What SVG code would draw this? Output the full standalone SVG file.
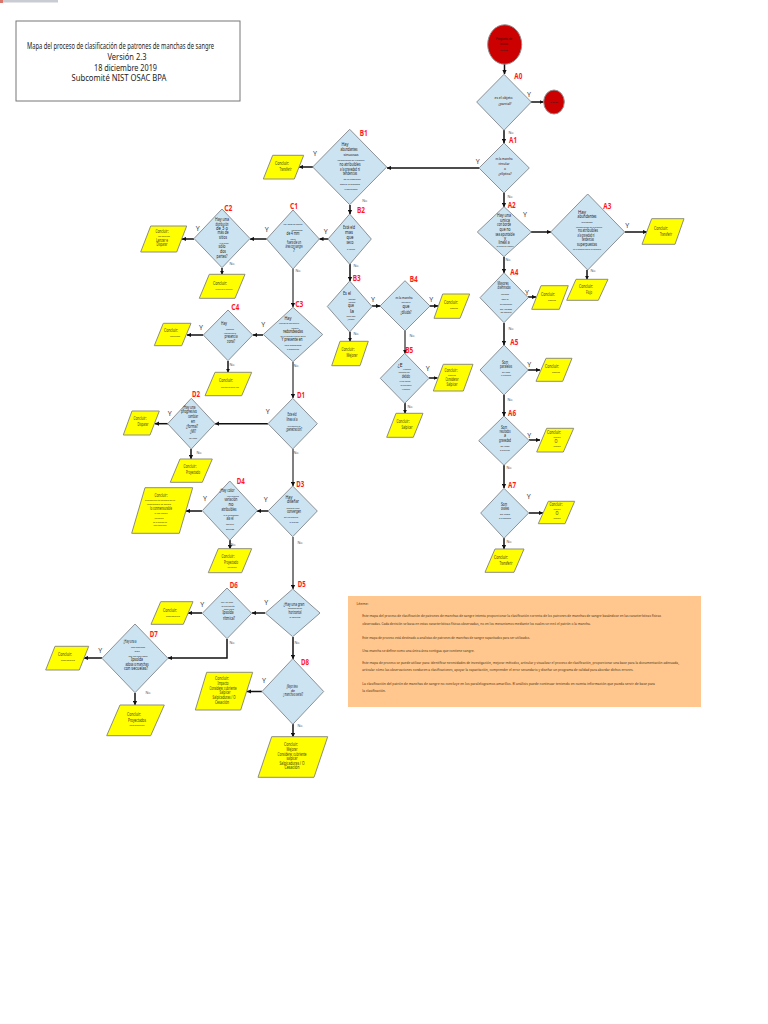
<svg xmlns="http://www.w3.org/2000/svg" width="768" height="1024" viewBox="0 0 768 1024">
<style>
text{font-family:"Noto Sans","Open Sans","DejaVu Sans",sans-serif;text-anchor:middle;fill:#222}
.d{fill:#cce3f2;stroke:#8b9196;stroke-width:1}
.p{fill:#ffff00;stroke:#8e8e80;stroke-width:1}
.e{fill:#cc0000;stroke:#8b8f8f;stroke-width:1}
.s{font-size:4.6px}
.x{font-size:2.3px}
.k{font-size:4.8px;fill:#3c3c08}
.kx{font-size:2.3px;fill:#3c3c08}
.r{font-size:9.5px;font-weight:700;fill:#ff1a1a}
.y{font-size:7px;fill:#444}
.n{font-size:2.6px;fill:#555}
.l{font-size:3.6px;text-anchor:start;fill:#4a3010}
.t{font-size:8.6px;fill:#222}
.c{font-size:3px;fill:#300}
#connectors path{fill:none;stroke:#111;stroke-width:1.5;marker-end:url(#a)}
#connectors path.g{stroke:#555}
</style>
<defs><marker id="a" markerUnits="userSpaceOnUse" markerWidth="5" markerHeight="5" refX="4" refY="2.5" orient="auto"><path d="M0 .4L4.2 2.5L0 4.6z" fill="#111"/></marker></defs>
<rect x="0" y="0" width="58" height="2.5" fill="#c9ccd2"/><rect x="0" y="0" width="3" height="3" fill="#d9756a"/>
<g id="header"><rect x="16" y="21" width="224" height="80" fill="#fff" stroke="#777" stroke-width="1"/>
<text class="t" x="120.500" y="49" textLength="187" lengthAdjust="spacingAndGlyphs">Mapa del proceso de clasificación de patrones de manchas de sangre</text>
<text class="t" x="127" y="60" textLength="39" lengthAdjust="spacingAndGlyphs">Versión 2.3</text>
<text class="t" x="125.500" y="71" textLength="63" lengthAdjust="spacingAndGlyphs">18 diciembre 2019</text>
<text class="t" x="119" y="81" textLength="95" lengthAdjust="spacingAndGlyphs">Subcomité NIST OSAC BPA</text></g>
<g id="connectors">
<path d="M504.500 64V74"/><path d="M531 102H543.500"/><path d="M504 130V143"/><path d="M479 168H387"/><path d="M504 193V207"/>
<path d="M313 167H299"/><path d="M350 205V214"/><path d="M328 239H319.500"/><path d="M266.700 239H250"/><path d="M194 239H182"/><path d="M222 268V274.500"/>
<path class="g" d="M293 269V307"/><path d="M263 335H253"/><path d="M203 335H187"/><path d="M228 361V372.500"/><path class="g" d="M293 362V398"/>
<path d="M268 423.700H215"/><path d="M168 423.700H155"/><path d="M191 449V459"/><path class="g" d="M293 449V486"/><path d="M268 511H257"/><path d="M202 511H186"/>
<path d="M230 540V549"/><path class="g" d="M293 537V589"/><path d="M265 613H252"/><path d="M202 613H188"/><path d="M227 639V658H168"/><path d="M102 658H84"/>
<path d="M135 693V705"/><path d="M293 637V659"/><path d="M262 691.500H247"/><path d="M293 724V737"/>
<path d="M350 264V281"/><path d="M372 306H380"/><path d="M350 332V341.500"/><path d="M430 306H438"/><path class="g" d="M405 331V353.500"/><path d="M429 378H437.500"/><path d="M405 403V413.500"/>
<path d="M531 232H551"/><path d="M625 232H647"/><path d="M587 270V279.500"/><path d="M504 257V273"/><path d="M528 297H536"/><path d="M504 323V345"/><path d="M528 370H540"/>
<path d="M504 395V416"/><path d="M529 440H540"/><path d="M504 465V488"/><path d="M529 513H543"/><path d="M504 538V549"/>
</g>
<g id="start"><ellipse class="e" cx="504.700" cy="44.500" rx="17" ry="19.700"/>
<text class="c" x="504" y="40" textLength="16" lengthAdjust="spacingAndGlyphs">Pregunta de</text>
<text class="c" x="504" y="45" textLength="8" lengthAdjust="spacingAndGlyphs">inicio</text>
<text class="x" x="504" y="51" textLength="8" lengthAdjust="spacingAndGlyphs">Inicio</text></g>
<g id="stop"><ellipse class="e" cx="554" cy="102" rx="10.300" ry="12"/><text class="x" x="554" y="103" textLength="8" lengthAdjust="spacingAndGlyphs">Parar</text></g>

<g id="A0"><path class="d" d="M504 74.300L531.300 102L504 130.300L476.700 102z"/><text class="c" x="503.500" y="99" textLength="18" lengthAdjust="spacingAndGlyphs">es el objeto</text><text class="c" x="505" y="105" textLength="13" lengthAdjust="spacingAndGlyphs">¿parcial?</text><text class="r" x="518.300" y="78.500" textLength="8" lengthAdjust="spacingAndGlyphs">A0</text><text class="y" x="529" y="97">Y</text><text class="n" x="511" y="134" textLength="5" lengthAdjust="spacingAndGlyphs">No</text></g>
<g id="A1"><path class="d" d="M504 143L529.300 168L504 193L479 168z"/><text class="c" x="504" y="160" textLength="17" lengthAdjust="spacingAndGlyphs">es la mancha</text><text class="c" x="504" y="165" textLength="11" lengthAdjust="spacingAndGlyphs">circular</text><text class="c" x="505" y="170" textLength="2" lengthAdjust="spacingAndGlyphs">o</text><text class="c" x="505" y="175" textLength="13" lengthAdjust="spacingAndGlyphs">¿elíptica?</text><text class="r" x="513" y="143" textLength="8" lengthAdjust="spacingAndGlyphs">A1</text><text class="y" x="477.700" y="164">Y</text><text class="n" x="510" y="198" textLength="5" lengthAdjust="spacingAndGlyphs">No</text></g>
<g id="A2"><path class="d" d="M504 206.700L531.300 232L504 256.700L477.300 232z"/><text class="s" x="504" y="217" textLength="14" lengthAdjust="spacingAndGlyphs">Hay una</text><text class="s" x="505" y="222" textLength="10" lengthAdjust="spacingAndGlyphs">unica</text><text class="s" x="504" y="226" textLength="14" lengthAdjust="spacingAndGlyphs">con borde</text><text class="s" x="505" y="231" textLength="11" lengthAdjust="spacingAndGlyphs">que no</text><text class="s" x="505" y="236" textLength="19" lengthAdjust="spacingAndGlyphs">sea apuntable</text><text class="s" x="505" y="240" textLength="2" lengthAdjust="spacingAndGlyphs">y</text><text class="s" x="504" y="244" textLength="11" lengthAdjust="spacingAndGlyphs">lineal a</text><text class="x" x="505" y="247" textLength="17" lengthAdjust="spacingAndGlyphs">los bordes de la mancha</text><text class="r" x="511.700" y="207.500" textLength="8" lengthAdjust="spacingAndGlyphs">A2</text><text class="y" x="525" y="217">Y</text><text class="n" x="508" y="261" textLength="5" lengthAdjust="spacingAndGlyphs">No</text></g>
<g id="A3"><path class="d" d="M587.700 194L624.700 232L587.700 270L550.700 232z"/><text class="s" x="582" y="214" textLength="8" lengthAdjust="spacingAndGlyphs">Hay</text><text class="s" x="587" y="218" textLength="19" lengthAdjust="spacingAndGlyphs">abundantes</text><text class="x" x="587" y="223" textLength="11" lengthAdjust="spacingAndGlyphs">sinuosas</text><text class="x" x="589" y="227.500" textLength="26" lengthAdjust="spacingAndGlyphs">características en la mancha</text><text class="s" x="588" y="232" textLength="20" lengthAdjust="spacingAndGlyphs">no atribuibles</text><text class="s" x="586" y="237" textLength="17" lengthAdjust="spacingAndGlyphs">a la gravedad ni</text><text class="s" x="588" y="241" textLength="12" lengthAdjust="spacingAndGlyphs">tendencias</text><text class="s" x="587" y="246" textLength="20" lengthAdjust="spacingAndGlyphs">superpuestas</text><text class="x" x="587" y="250" textLength="28" lengthAdjust="spacingAndGlyphs">de la mancha sobre la superficie</text><text class="r" x="607.300" y="208.500" textLength="8" lengthAdjust="spacingAndGlyphs">A3</text><text class="y" x="627.300" y="228">Y</text><text class="n" x="593" y="272" textLength="5" lengthAdjust="spacingAndGlyphs">No</text></g>
<g id="A4"><path class="d" d="M504 272.700L528.300 297.700L504 322.700L480 297.700z"/><text class="s" x="503" y="285" textLength="11" lengthAdjust="spacingAndGlyphs">Mayores</text><text class="s" x="504" y="289" textLength="13" lengthAdjust="spacingAndGlyphs">diseminadas</text><text class="x" x="505" y="295" textLength="8" lengthAdjust="spacingAndGlyphs">unidas</text><text class="x" x="505" y="300" textLength="7" lengthAdjust="spacingAndGlyphs">con la</text><text class="x" x="506" y="305" textLength="12" lengthAdjust="spacingAndGlyphs">en manchas</text><text class="x" x="506" y="310" textLength="12" lengthAdjust="spacingAndGlyphs">en líneas</text><text class="x" x="506" y="313" textLength="11" lengthAdjust="spacingAndGlyphs">de sangre</text><text class="r" x="514.300" y="274.500" textLength="8" lengthAdjust="spacingAndGlyphs">A4</text><text class="y" x="527" y="295">Y</text><text class="n" x="511" y="330" textLength="5" lengthAdjust="spacingAndGlyphs">No</text></g>
<g id="A5"><path class="d" d="M504 345L528.300 370L504 395L480 370z"/><text class="s" x="505" y="364" textLength="6" lengthAdjust="spacingAndGlyphs">Son</text><text class="s" x="506" y="368" textLength="12" lengthAdjust="spacingAndGlyphs">paralelas</text><text class="x" x="506" y="372.500" textLength="8" lengthAdjust="spacingAndGlyphs">en línea</text><text class="x" x="506" y="376" textLength="10" lengthAdjust="spacingAndGlyphs">a la mancha</text><text class="r" x="514.300" y="345" textLength="8" lengthAdjust="spacingAndGlyphs">A5</text><text class="y" x="529.300" y="367">Y</text><text class="n" x="510" y="401" textLength="5" lengthAdjust="spacingAndGlyphs">No</text></g>
<g id="A6"><path class="d" d="M504 416L529.300 440.700L504 465.300L478.700 440.700z"/><text class="s" x="504" y="429" textLength="6" lengthAdjust="spacingAndGlyphs">Son</text><text class="s" x="505" y="433" textLength="11" lengthAdjust="spacingAndGlyphs">resultados</text><text class="s" x="505" y="437" textLength="2" lengthAdjust="spacingAndGlyphs">a</text><text class="s" x="505" y="442" textLength="12" lengthAdjust="spacingAndGlyphs">gravedad</text><text class="x" x="505" y="447" textLength="9" lengthAdjust="spacingAndGlyphs">en línea</text><text class="x" x="505" y="451" textLength="10" lengthAdjust="spacingAndGlyphs">o circular</text><text class="r" x="512" y="416" textLength="8" lengthAdjust="spacingAndGlyphs">A6</text><text class="y" x="529.300" y="438">Y</text><text class="n" x="509" y="469" textLength="5" lengthAdjust="spacingAndGlyphs">No</text></g>
<g id="A7"><path class="d" d="M504 488.300L528.700 513L504 538.300L480.700 513z"/><text class="s" x="504" y="506" textLength="6" lengthAdjust="spacingAndGlyphs">Son</text><text class="s" x="505" y="510" textLength="8" lengthAdjust="spacingAndGlyphs">ovales</text><text class="x" x="505" y="515" textLength="10" lengthAdjust="spacingAndGlyphs">en línea</text><text class="x" x="505" y="519" textLength="12" lengthAdjust="spacingAndGlyphs">a la mancha</text><text class="r" x="512" y="488" textLength="8" lengthAdjust="spacingAndGlyphs">A7</text><text class="y" x="528.700" y="499">Y</text><text class="n" x="509" y="543" textLength="5" lengthAdjust="spacingAndGlyphs">No</text></g>

<g id="B1"><path class="d" d="M349.700 129.300L386.700 167L349.700 204.700L312.700 167z"/><text class="s" x="345" y="146" textLength="7" lengthAdjust="spacingAndGlyphs">Hay</text><text class="s" x="349" y="150.500" textLength="17" lengthAdjust="spacingAndGlyphs">abundantes</text><text class="c" x="351" y="155.500" textLength="15" lengthAdjust="spacingAndGlyphs">sinuosas</text><text class="x" x="351" y="160.500" textLength="27" lengthAdjust="spacingAndGlyphs">características en la mancha</text><text class="s" x="350" y="165.500" textLength="21" lengthAdjust="spacingAndGlyphs">no atribuibles</text><text class="s" x="350" y="170.500" textLength="20" lengthAdjust="spacingAndGlyphs">a la gravedad ni</text><text class="s" x="350" y="175" textLength="14" lengthAdjust="spacingAndGlyphs">tendencias</text><text class="x" x="352" y="180" textLength="17" lengthAdjust="spacingAndGlyphs">de la superficie</text><text class="x" x="350" y="185" textLength="20" lengthAdjust="spacingAndGlyphs">sobre la mancha</text><text class="x" x="351" y="190" textLength="13" lengthAdjust="spacingAndGlyphs">o movimiento</text><text class="r" x="363.700" y="135.500" textLength="8" lengthAdjust="spacingAndGlyphs">B1</text><text class="y" x="315" y="156">Y</text><text class="n" x="364.700" y="202" textLength="5" lengthAdjust="spacingAndGlyphs">No</text></g>
<g id="B2"><path class="d" d="M349.700 214L371.300 239L349.700 264.300L328 239z"/><text class="s" x="349" y="229" textLength="12" lengthAdjust="spacingAndGlyphs">Está eld</text><text class="s" x="349" y="234" textLength="8" lengthAdjust="spacingAndGlyphs">mas</text><text class="s" x="350" y="239" textLength="7" lengthAdjust="spacingAndGlyphs">que</text><text class="s" x="350" y="244" textLength="7" lengthAdjust="spacingAndGlyphs">seco</text><text class="x" x="351" y="249.500" textLength="8" lengthAdjust="spacingAndGlyphs">o líquido</text><text class="r" x="361" y="213" textLength="8" lengthAdjust="spacingAndGlyphs">B2</text><text class="n" x="356" y="267" textLength="5" lengthAdjust="spacingAndGlyphs">No</text><text class="y" x="325.700" y="234">Y</text></g>
<g id="B3"><path class="d" d="M349.700 281L372 306.500L349.700 332L327.300 306.500z"/><text class="s" x="347" y="295" textLength="8" lengthAdjust="spacingAndGlyphs">Es el</text><text class="x" x="352" y="299.500" textLength="7" lengthAdjust="spacingAndGlyphs">patrón</text><text class="x" x="352" y="303" textLength="7" lengthAdjust="spacingAndGlyphs">inicial</text><text class="s" x="351" y="307" textLength="6" lengthAdjust="spacingAndGlyphs">que</text><text class="s" x="352" y="312.500" textLength="4" lengthAdjust="spacingAndGlyphs">la</text><text class="x" x="351" y="316.500" textLength="9" lengthAdjust="spacingAndGlyphs">área con</text><text class="x" x="351" y="320" textLength="7" lengthAdjust="spacingAndGlyphs">¿suelo?</text><text class="r" x="356.700" y="280.500" textLength="8" lengthAdjust="spacingAndGlyphs">B3</text><text class="y" x="373" y="302">Y</text><text class="n" x="356" y="335" textLength="5" lengthAdjust="spacingAndGlyphs">No</text></g>
<g id="B4"><path class="d" d="M405 280.700L430 306L405 331L380 306z"/><text class="c" x="404" y="299" textLength="17" lengthAdjust="spacingAndGlyphs">es la mancha</text><text class="x" x="406" y="303" textLength="9" lengthAdjust="spacingAndGlyphs">más oscura</text><text class="s" x="406" y="307.500" textLength="7" lengthAdjust="spacingAndGlyphs">que</text><text class="s" x="406" y="313.500" textLength="11" lengthAdjust="spacingAndGlyphs">¿diluida?</text><text class="r" x="413.700" y="281.500" textLength="8" lengthAdjust="spacingAndGlyphs">B4</text><text class="y" x="431.300" y="302">Y</text><text class="n" x="412" y="337" textLength="5" lengthAdjust="spacingAndGlyphs">No</text></g>
<g id="B5"><path class="d" d="M404.700 353.300L429 378.300L404.700 403.300L380.300 378.300z"/><text class="s" x="400" y="367" textLength="5" lengthAdjust="spacingAndGlyphs">¿E</text><text class="x" x="407" y="370" textLength="8" lengthAdjust="spacingAndGlyphs">la mancha</text><text class="x" x="404" y="373" textLength="11" lengthAdjust="spacingAndGlyphs">resultado con</text><text class="s" x="406" y="377.500" textLength="8" lengthAdjust="spacingAndGlyphs">debido</text><text class="x" x="405" y="382" textLength="11" lengthAdjust="spacingAndGlyphs">a una acción</text><text class="x" x="406" y="386" textLength="11" lengthAdjust="spacingAndGlyphs">de flujo sobre</text><text class="x" x="406" y="390" textLength="8" lengthAdjust="spacingAndGlyphs">la mancha</text><text class="r" x="409.300" y="352.500" textLength="8" lengthAdjust="spacingAndGlyphs">B5</text><text class="y" x="427.700" y="370.500">Y</text><text class="n" x="410" y="408" textLength="5" lengthAdjust="spacingAndGlyphs">No</text></g>

<g id="C1"><path class="d" d="M293 210L319.300 239L293 269L266.700 239z"/><text class="x" x="293" y="225" textLength="19" lengthAdjust="spacingAndGlyphs">hay áreas de sangre</text><text class="x" x="297" y="230.500" textLength="11" lengthAdjust="spacingAndGlyphs">rodeadas</text><text class="s" x="293" y="235" textLength="13" lengthAdjust="spacingAndGlyphs">de 4 mm</text><text class="x" x="293" y="239.500" textLength="5" lengthAdjust="spacingAndGlyphs">sobre</text><text class="s" x="294" y="244" textLength="14" lengthAdjust="spacingAndGlyphs">fuera de un</text><text class="s" x="294" y="248" textLength="17" lengthAdjust="spacingAndGlyphs">área con sangre</text><text class="s" x="294" y="252" textLength="2" lengthAdjust="spacingAndGlyphs">?</text><text class="r" x="294" y="209" textLength="8" lengthAdjust="spacingAndGlyphs">C1</text><text class="y" x="266.700" y="232">Y</text><text class="n" x="298" y="272" textLength="5" lengthAdjust="spacingAndGlyphs">No</text></g>
<g id="C2"><path class="d" d="M222 209L250 238.500L222 267.700L194 238.500z"/><text class="s" x="222" y="221" textLength="14" lengthAdjust="spacingAndGlyphs">Hay una</text><text class="s" x="222" y="225.500" textLength="13" lengthAdjust="spacingAndGlyphs">distribución</text><text class="s" x="222" y="230" textLength="12" lengthAdjust="spacingAndGlyphs">de 3 o</text><text class="s" x="223" y="234" textLength="11" lengthAdjust="spacingAndGlyphs">más de</text><text class="s" x="223" y="238.500" textLength="8" lengthAdjust="spacingAndGlyphs">sitios</text><text class="x" x="224" y="243.500" textLength="9" lengthAdjust="spacingAndGlyphs">a lo largo</text><text class="s" x="222" y="248" textLength="7" lengthAdjust="spacingAndGlyphs">sólo</text><text class="s" x="223" y="253" textLength="6" lengthAdjust="spacingAndGlyphs">dos</text><text class="s" x="222" y="258" textLength="11" lengthAdjust="spacingAndGlyphs">partes?</text><text class="r" x="228.300" y="211" textLength="8" lengthAdjust="spacingAndGlyphs">C2</text><text class="y" x="197.700" y="231">Y</text><text class="n" x="232" y="264.500" textLength="5" lengthAdjust="spacingAndGlyphs">No</text></g>
<g id="C3"><path class="d" d="M293 307.300L322.700 334.500L293 361.700L263.300 334.500z"/><text class="s" x="288" y="320" textLength="7" lengthAdjust="spacingAndGlyphs">Hay</text><text class="x" x="289" y="324" textLength="20" lengthAdjust="spacingAndGlyphs">indicios de salpicadura</text><text class="x" x="295" y="329" textLength="7" lengthAdjust="spacingAndGlyphs">siempre</text><text class="s" x="293" y="333" textLength="20" lengthAdjust="spacingAndGlyphs">redondeadas</text><text class="x" x="293" y="336.500" textLength="25" lengthAdjust="spacingAndGlyphs">en un camino circular sobre</text><text class="s" x="292" y="341" textLength="21" lengthAdjust="spacingAndGlyphs">Y presente en</text><text class="x" x="293" y="345.500" textLength="17" lengthAdjust="spacingAndGlyphs">una superficie</text><text class="x" x="293" y="350" textLength="12" lengthAdjust="spacingAndGlyphs">o manchado</text><text class="r" x="299.300" y="307" textLength="8" lengthAdjust="spacingAndGlyphs">C3</text><text class="y" x="263.300" y="327">Y</text><text class="n" x="296" y="367" textLength="5" lengthAdjust="spacingAndGlyphs">No</text></g>
<g id="C4"><path class="d" d="M228 310L252.700 335L228 360.700L203.300 335z"/><text class="s" x="224" y="325" textLength="6" lengthAdjust="spacingAndGlyphs">Hay</text><text class="x" x="230" y="330" textLength="8" lengthAdjust="spacingAndGlyphs">manchas</text><text class="x" x="230" y="334" textLength="12" lengthAdjust="spacingAndGlyphs">lineales sobre</text><text class="s" x="231" y="338" textLength="13" lengthAdjust="spacingAndGlyphs">presencia</text><text class="s" x="231" y="343" textLength="8" lengthAdjust="spacingAndGlyphs">zona?</text><text class="r" x="235.300" y="310" textLength="8" lengthAdjust="spacingAndGlyphs">C4</text><text class="y" x="201" y="329.500">Y</text><text class="n" x="232" y="366" textLength="5" lengthAdjust="spacingAndGlyphs">No</text></g>

<g id="D1"><path class="d" d="M292.700 398.300L317.300 423.700L292.700 449L268 423.700z"/><text class="s" x="292" y="416" textLength="9" lengthAdjust="spacingAndGlyphs">Este eld</text><text class="s" x="292" y="421" textLength="11" lengthAdjust="spacingAndGlyphs">línea al a</text><text class="x" x="294" y="427" textLength="13" lengthAdjust="spacingAndGlyphs">una mancha de</text><text class="s" x="294" y="431" textLength="16" lengthAdjust="spacingAndGlyphs">¿penetración?</text><text class="r" x="301" y="397.500" textLength="8" lengthAdjust="spacingAndGlyphs">D1</text><text class="y" x="267.700" y="413.500">Y</text><text class="n" x="296" y="454" textLength="5" lengthAdjust="spacingAndGlyphs">No</text></g>
<g id="D2"><path class="d" d="M191.300 398.300L215 423.700L191.300 449L167.700 423.700z"/><text class="s" x="189" y="409" textLength="13" lengthAdjust="spacingAndGlyphs">¿Hay una</text><text class="s" x="189" y="413" textLength="16" lengthAdjust="spacingAndGlyphs">progresivo</text><text class="s" x="193" y="418" textLength="10" lengthAdjust="spacingAndGlyphs">cambiar</text><text class="s" x="193" y="422.500" textLength="4" lengthAdjust="spacingAndGlyphs">en</text><text class="s" x="192" y="428" textLength="12" lengthAdjust="spacingAndGlyphs">¿forma?</text><text class="s" x="193" y="433" textLength="6" lengthAdjust="spacingAndGlyphs">¿Ml?</text><text class="x" x="193" y="439" textLength="8" lengthAdjust="spacingAndGlyphs">de línea</text><text class="r" x="196" y="396.500" textLength="8" lengthAdjust="spacingAndGlyphs">D2</text><text class="y" x="169.700" y="416">Y</text><text class="n" x="199" y="454" textLength="5" lengthAdjust="spacingAndGlyphs">No</text></g>
<g id="D3"><path class="d" d="M292.700 486L317.300 511L292.700 536.700L268 511z"/><text class="s" x="289" y="499" textLength="7" lengthAdjust="spacingAndGlyphs">Hay</text><text class="s" x="293" y="503" textLength="12" lengthAdjust="spacingAndGlyphs">diseñar</text><text class="x" x="293" y="509" textLength="13" lengthAdjust="spacingAndGlyphs">manchas lineal</text><text class="s" x="294" y="513" textLength="14" lengthAdjust="spacingAndGlyphs">convergen</text><text class="x" x="291" y="518" textLength="14" lengthAdjust="spacingAndGlyphs">en un ángulo</text><text class="x" x="294" y="523" textLength="9" lengthAdjust="spacingAndGlyphs">o círculo</text><text class="r" x="300.300" y="486.500" textLength="8" lengthAdjust="spacingAndGlyphs">D3</text><text class="y" x="265.700" y="502">Y</text><text class="n" x="300" y="544" textLength="5" lengthAdjust="spacingAndGlyphs">No</text></g>
<g id="D4"><path class="d" d="M229.800 481L257.300 510.700L229.800 540.300L202.300 510.700z"/><text class="s" x="227" y="492" textLength="15" lengthAdjust="spacingAndGlyphs">¿Hay color</text><text class="x" x="233" y="497" textLength="12" lengthAdjust="spacingAndGlyphs">una mancha</text><text class="s" x="231" y="501" textLength="13" lengthAdjust="spacingAndGlyphs">variación</text><text class="s" x="231" y="506" textLength="5" lengthAdjust="spacingAndGlyphs">no</text><text class="s" x="229" y="511" textLength="15" lengthAdjust="spacingAndGlyphs">atribuibles</text><text class="x" x="231" y="516" textLength="15" lengthAdjust="spacingAndGlyphs">a la gravedad</text><text class="s" x="230" y="520" textLength="7" lengthAdjust="spacingAndGlyphs">ala el</text><text class="x" x="230" y="525" textLength="8" lengthAdjust="spacingAndGlyphs">sobre el</text><text class="x" x="230" y="530" textLength="8" lengthAdjust="spacingAndGlyphs">flujo</text><text class="r" x="240.700" y="484" textLength="8" lengthAdjust="spacingAndGlyphs">D4</text><text class="y" x="205" y="501">Y</text><text class="n" x="233" y="546" textLength="5" lengthAdjust="spacingAndGlyphs">No</text></g>
<g id="D5"><path class="d" d="M292.700 589L320 613L292.700 636.700L265.300 613z"/><text class="s" x="294" y="605.500" textLength="21" lengthAdjust="spacingAndGlyphs">¿Hay una gran</text><text class="x" x="295" y="609" textLength="14" lengthAdjust="spacingAndGlyphs">concentración</text><text class="s" x="295" y="614" textLength="13" lengthAdjust="spacingAndGlyphs">horizontal</text><text class="x" x="295" y="618" textLength="11" lengthAdjust="spacingAndGlyphs">o vertical</text><text class="r" x="301.700" y="586.500" textLength="8" lengthAdjust="spacingAndGlyphs">D5</text><text class="y" x="266.300" y="605">Y</text><text class="n" x="297" y="644" textLength="5" lengthAdjust="spacingAndGlyphs">No</text></g>
<g id="D6"><path class="d" d="M227 588L251.700 613.300L227 638.700L202.300 613.300z"/><text class="x" x="227" y="603" textLength="12" lengthAdjust="spacingAndGlyphs">hay un área</text><text class="x" x="228" y="606.500" textLength="13" lengthAdjust="spacingAndGlyphs">de gran tamaño</text><text class="x" x="229" y="610" textLength="10" lengthAdjust="spacingAndGlyphs">con una</text><text class="s" x="228" y="614" textLength="11" lengthAdjust="spacingAndGlyphs">Ipsolda</text><text class="s" x="229" y="620" textLength="12" lengthAdjust="spacingAndGlyphs">rítmica?</text><text class="r" x="233.700" y="588" textLength="8" lengthAdjust="spacingAndGlyphs">D6</text><text class="y" x="202.300" y="607">Y</text><text class="n" x="232" y="644" textLength="5" lengthAdjust="spacingAndGlyphs">No</text></g>
<g id="D7"><path class="d" d="M135 624L168 658.300L135 692.700L102 658.300z"/><text class="s" x="130" y="643" textLength="13" lengthAdjust="spacingAndGlyphs">¿Hay una a</text><text class="x" x="138" y="648" textLength="14" lengthAdjust="spacingAndGlyphs">más manchas</text><text class="x" x="137" y="651.500" textLength="5" lengthAdjust="spacingAndGlyphs">área</text><text class="x" x="138" y="656.500" textLength="19" lengthAdjust="spacingAndGlyphs">con una gran masa</text><text class="s" x="137" y="660.500" textLength="12" lengthAdjust="spacingAndGlyphs">Ipsolda</text><text class="s" x="137" y="665.500" textLength="23" lengthAdjust="spacingAndGlyphs">adosa o manchas</text><text class="s" x="136" y="670" textLength="24" lengthAdjust="spacingAndGlyphs">con secuelas?</text><text class="r" x="153.700" y="636.500" textLength="8" lengthAdjust="spacingAndGlyphs">D7</text><text class="y" x="100.300" y="652.500">Y</text><text class="n" x="148" y="694" textLength="5" lengthAdjust="spacingAndGlyphs">No</text></g>
<g id="D8"><path class="d" d="M292.800 658.700L323.700 691.500L292.800 724.300L262 691.500z"/><text class="s" x="292" y="688" textLength="11" lengthAdjust="spacingAndGlyphs">¿Mayor área</text><text class="c" x="293" y="692" textLength="4" lengthAdjust="spacingAndGlyphs">de</text><text class="s" x="293" y="696" textLength="20" lengthAdjust="spacingAndGlyphs">¿ mancha o serial?</text><text class="r" x="305" y="664.500" textLength="8" lengthAdjust="spacingAndGlyphs">D8</text><text class="y" x="264" y="683">Y</text><text class="n" x="300" y="727" textLength="5" lengthAdjust="spacingAndGlyphs">No</text></g>

<g id="R-B1"><path class="p" d="M272.700 155.300H303.700L294.300 179H263.300z"/><text class="k" x="282" y="165" textLength="14" lengthAdjust="spacingAndGlyphs">Concluir:</text><text class="k" x="285.500" y="170.500" textLength="12" lengthAdjust="spacingAndGlyphs">Transferir</text></g>
<g id="R-C2Y"><path class="p" d="M150.700 226H186.700L176.700 252H140.700z"/><text class="k" x="162" y="233" textLength="13" lengthAdjust="spacingAndGlyphs">Concluir:</text><text class="kx" x="164" y="237" textLength="12" lengthAdjust="spacingAndGlyphs">con sangrado</text><text class="k" x="162" y="241.500" textLength="12" lengthAdjust="spacingAndGlyphs">Lanzar e</text><text class="k" x="162" y="245.500" textLength="11" lengthAdjust="spacingAndGlyphs">Disparar</text></g>
<g id="R-C2N"><path class="p" d="M209.300 274.300H245L235 298.300H199.300z"/><text class="k" x="220" y="285" textLength="14" lengthAdjust="spacingAndGlyphs">Concluir:</text><text class="kx" x="224" y="289.500" textLength="17" lengthAdjust="spacingAndGlyphs">salpicaduras de lanzamiento</text></g>
<g id="R-C4Y"><path class="p" d="M163.300 323.300H191L181.700 345.700H154.300z"/><text class="k" x="171" y="332" textLength="14" lengthAdjust="spacingAndGlyphs">Concluir:</text><text class="kx" x="175" y="337" textLength="10" lengthAdjust="spacingAndGlyphs">manchado</text></g>
<g id="R-C4N"><path class="p" d="M215 372.300H251.700L241.700 395.700H205z"/><text class="k" x="226" y="382" textLength="14" lengthAdjust="spacingAndGlyphs">Concluir:</text><text class="kx" x="230" y="387.500" textLength="18" lengthAdjust="spacingAndGlyphs">salpicaduras sobre línea</text></g>
<g id="R-D2Y"><path class="p" d="M132 411H159.300L150 435H123.300z"/><text class="k" x="140" y="420" textLength="13" lengthAdjust="spacingAndGlyphs">Concluir:</text><text class="k" x="143" y="426" textLength="11" lengthAdjust="spacingAndGlyphs">Disparar</text></g>
<g id="R-D2N"><path class="p" d="M180 459H212.300L202.300 482.300H170.300z"/><text class="k" x="190" y="468" textLength="13" lengthAdjust="spacingAndGlyphs">Concluir:</text><text class="k" x="193" y="473.500" textLength="14" lengthAdjust="spacingAndGlyphs">Proyectado</text></g>
<g id="R-D4Y"><path class="p" d="M145 487.700H192.700L179.300 533.300H131.700z"/><text class="k" x="161" y="496.500" textLength="13" lengthAdjust="spacingAndGlyphs">Concluir:</text><text class="kx" x="160" y="501" textLength="30" lengthAdjust="spacingAndGlyphs">Salpicadura de trayecto de un</text><text class="kx" x="159" y="504.500" textLength="24" lengthAdjust="spacingAndGlyphs">movimiento de sangre</text><text class="k" x="161" y="509.500" textLength="22" lengthAdjust="spacingAndGlyphs">lo conmensurable</text><text class="kx" x="161" y="513.500" textLength="13" lengthAdjust="spacingAndGlyphs">o una acción</text><text class="kx" x="159" y="518.500" textLength="9" lengthAdjust="spacingAndGlyphs">de sangre</text><text class="kx" x="160" y="522.500" textLength="14" lengthAdjust="spacingAndGlyphs">de la mancha de</text><text class="kx" x="160" y="526" textLength="13" lengthAdjust="spacingAndGlyphs">con sangrado</text></g>
<g id="R-D4N"><path class="p" d="M218.300 548.700H251.700L241.700 572.700H208.300z"/><text class="k" x="228" y="558" textLength="13" lengthAdjust="spacingAndGlyphs">Concluir:</text><text class="k" x="231" y="563.500" textLength="14" lengthAdjust="spacingAndGlyphs">Proyectado</text><text class="kx" x="232" y="567.500" textLength="9" lengthAdjust="spacingAndGlyphs">de sangre</text></g>
<g id="R-D6Y"><path class="p" d="M160.700 601.700H193L183.300 624.300H151z"/><text class="k" x="170" y="612" textLength="14" lengthAdjust="spacingAndGlyphs">Concluir:</text><text class="kx" x="173" y="616.500" textLength="14" lengthAdjust="spacingAndGlyphs">salpicadura</text></g>
<g id="R-D7Y"><path class="p" d="M55 646.300H88.700L79.300 670H45.700z"/><text class="k" x="65" y="656" textLength="14" lengthAdjust="spacingAndGlyphs">Concluir:</text><text class="kx" x="68" y="660.500" textLength="14" lengthAdjust="spacingAndGlyphs">salpicadura</text></g>
<g id="R-D7N"><path class="p" d="M120 705H164.300L150.700 735.700H106.700z"/><text class="k" x="134" y="716" textLength="14" lengthAdjust="spacingAndGlyphs">Concluir:</text><text class="k" x="137" y="721.500" textLength="18" lengthAdjust="spacingAndGlyphs">Proyectados</text><text class="kx" x="137" y="726" textLength="15" lengthAdjust="spacingAndGlyphs">salpicaduras</text></g>
<g id="R-D8Y"><path class="p" d="M206.700 672.300H252.700L240.700 710H195.300z"/><text class="k" x="222" y="680" textLength="14" lengthAdjust="spacingAndGlyphs">Concluir:</text><text class="k" x="223" y="685" textLength="11" lengthAdjust="spacingAndGlyphs">Impacto</text><text class="k" x="223" y="689.500" textLength="27" lengthAdjust="spacingAndGlyphs">Considere: cubriente</text><text class="k" x="225" y="694" textLength="11" lengthAdjust="spacingAndGlyphs">Salpicar</text><text class="k" x="224" y="699" textLength="23" lengthAdjust="spacingAndGlyphs">Salpicaduras / O</text><text class="k" x="222" y="703.500" textLength="14" lengthAdjust="spacingAndGlyphs">Cesación</text></g>
<g id="R-D8N"><path class="p" d="M271.700 736.700H327.700L314 777.300H258z"/><text class="k" x="291" y="745.500" textLength="14" lengthAdjust="spacingAndGlyphs">Concluir:</text><text class="k" x="292" y="751" textLength="11" lengthAdjust="spacingAndGlyphs">Mejorar</text><text class="k" x="292" y="755.500" textLength="29" lengthAdjust="spacingAndGlyphs">Considere: cubriente</text><text class="k" x="292" y="759.500" textLength="11" lengthAdjust="spacingAndGlyphs">salpicar</text><text class="k" x="292" y="764.500" textLength="25" lengthAdjust="spacingAndGlyphs">Salpicaduras / O</text><text class="k" x="292" y="769" textLength="15" lengthAdjust="spacingAndGlyphs">Cesación</text></g>
<g id="R-B3N"><path class="p" d="M340 341.300H368.300L360 365.700H331.700z"/><text class="k" x="348" y="351" textLength="13" lengthAdjust="spacingAndGlyphs">Concluir:</text><text class="k" x="352" y="356.500" textLength="11" lengthAdjust="spacingAndGlyphs">Mejorar</text></g>
<g id="R-B4Y"><path class="p" d="M442.700 294H469.700L460 318.300H434z"/><text class="k" x="451" y="304" textLength="14" lengthAdjust="spacingAndGlyphs">Concluir:</text><text class="kx" x="454" y="309" textLength="8" lengthAdjust="spacingAndGlyphs">sangre</text></g>
<g id="R-B5Y"><path class="p" d="M443.300 364.300H473L463.300 391H433.300z"/><text class="k" x="451" y="371.500" textLength="13" lengthAdjust="spacingAndGlyphs">Concluir:</text><text class="kx" x="452" y="376" textLength="8" lengthAdjust="spacingAndGlyphs">sangre</text><text class="k" x="452" y="381" textLength="13" lengthAdjust="spacingAndGlyphs">Considerar</text><text class="k" x="452" y="386" textLength="11" lengthAdjust="spacingAndGlyphs">Salpicar</text></g>
<g id="R-B5N"><path class="p" d="M396 413.300H423L413.300 437.300H386.700z"/><text class="k" x="403" y="423" textLength="13" lengthAdjust="spacingAndGlyphs">Concluir:</text><text class="k" x="407" y="428.500" textLength="11" lengthAdjust="spacingAndGlyphs">Salpicar</text></g>
<g id="R-A3Y"><path class="p" d="M651.700 218.700H684L675 244.300H642z"/><text class="k" x="661" y="230" textLength="14" lengthAdjust="spacingAndGlyphs">Concluir:</text><text class="k" x="666" y="235.500" textLength="12" lengthAdjust="spacingAndGlyphs">Transferir</text></g>
<g id="R-A3N"><path class="p" d="M576 279.300H608L598.300 300.300H566.700z"/><text class="k" x="586" y="288" textLength="14" lengthAdjust="spacingAndGlyphs">Concluir:</text><text class="k" x="589" y="293.500" textLength="6" lengthAdjust="spacingAndGlyphs">Flujo</text></g>
<g id="R-A4Y"><path class="p" d="M541 285.700H568.300L559.300 309.300H531.700z"/><text class="k" x="548" y="295.500" textLength="14" lengthAdjust="spacingAndGlyphs">Concluir:</text><text class="kx" x="552" y="300.500" textLength="8" lengthAdjust="spacingAndGlyphs">sangre</text></g>
<g id="R-A5Y"><path class="p" d="M546 358.300H572L562.700 381.300H536z"/><text class="k" x="552" y="367.500" textLength="14" lengthAdjust="spacingAndGlyphs">Concluir:</text><text class="kx" x="556" y="372.500" textLength="8" lengthAdjust="spacingAndGlyphs">sangre</text></g>
<g id="R-A6Y"><path class="p" d="M546.700 428.300H573.700L563.300 452H536.700z"/><text class="k" x="554" y="433.500" textLength="14" lengthAdjust="spacingAndGlyphs">Concluir:</text><text class="kx" x="557" y="438" textLength="7" lengthAdjust="spacingAndGlyphs">mancha</text><text class="k" x="556" y="443" textLength="3" lengthAdjust="spacingAndGlyphs">O</text><text class="kx" x="557" y="447" textLength="7" lengthAdjust="spacingAndGlyphs">mancha</text></g>
<g id="R-A7Y"><path class="p" d="M548.300 501.300H574.700L565 523.700H538.300z"/><text class="k" x="556" y="505.500" textLength="13" lengthAdjust="spacingAndGlyphs">Concluir:</text><text class="kx" x="557" y="510" textLength="7" lengthAdjust="spacingAndGlyphs">mancha</text><text class="k" x="557" y="515" textLength="3" lengthAdjust="spacingAndGlyphs">O</text><text class="kx" x="557" y="519" textLength="7" lengthAdjust="spacingAndGlyphs">mancha</text></g>
<g id="R-A7N"><path class="p" d="M495 549H524L514 572.300H485z"/><text class="k" x="501" y="559" textLength="14" lengthAdjust="spacingAndGlyphs">Concluir:</text><text class="k" x="506" y="564.500" textLength="13" lengthAdjust="spacingAndGlyphs">Transferir</text></g>

<g id="legend"><rect x="348" y="596" width="353" height="111" fill="#ffc78e"/>
<text class="l" x="356.500" y="605.200" textLength="12" lengthAdjust="spacingAndGlyphs">Léeme:</text>
<text class="l" x="362.300" y="617.200" textLength="298.700" lengthAdjust="spacingAndGlyphs">Este mapa del proceso de clasificación de patrones de manchas de sangre intenta proporcionar la clasificación correcta de los patrones de manchas de sangre basándose en las características físicas</text>
<text class="l" x="362.300" y="624.900" textLength="228.400" lengthAdjust="spacingAndGlyphs">observadas. Cada decisión se basa en estas características físicas observadas, no en los mecanismos mediante los cuales se creó el patrón o la mancha.</text>
<text class="l" x="362.300" y="638.500" textLength="167.700" lengthAdjust="spacingAndGlyphs">Este mapa de proceso está destinado a analistas de patrones de manchas de sangre capacitados para ser utilizados.</text>
<text class="l" x="362.300" y="651.900" textLength="112" lengthAdjust="spacingAndGlyphs">Una mancha se define como una única área contigua que contiene sangre.</text>
<text class="l" x="362.300" y="663.500" textLength="316.700" lengthAdjust="spacingAndGlyphs">Este mapa de proceso se puede utilizar para: identificar necesidades de investigación, mejorar métodos, articular y visualizar el proceso de clasificación, proporcionar una base para la documentación adecuada,</text>
<text class="l" x="362.300" y="671.200" textLength="271" lengthAdjust="spacingAndGlyphs">articular cómo las observaciones conducen a clasificaciones, apoyar la capacitación, comprender el error secundario y diseñar un programa de calidad para abordar dichos errores.</text>
<text class="l" x="362.300" y="685.200" textLength="292.700" lengthAdjust="spacingAndGlyphs">La clasificación del patrón de manchas de sangre no concluye en los paralelogramos amarillos. El análisis puede continuar teniendo en cuenta información que pueda servir de base para</text>
<text class="l" x="362.300" y="691.500" textLength="23.400" lengthAdjust="spacingAndGlyphs">la clasificación.</text></g>
</svg>
